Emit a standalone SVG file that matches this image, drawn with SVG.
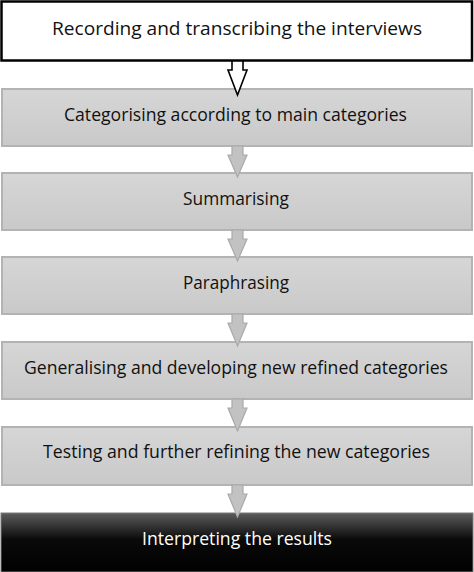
<svg xmlns="http://www.w3.org/2000/svg" width="474" height="572" viewBox="0 0 474 572">
  <defs>
    <linearGradient id="gray" x1="0" y1="0" x2="0" y2="1">
      <stop offset="0" stop-color="#d6d6d6"/>
      <stop offset="1" stop-color="#c9c9c9"/>
    </linearGradient>
    <linearGradient id="dark" x1="0" y1="0" x2="0" y2="1">
      <stop offset="0" stop-color="#5c5c5c"/>
      <stop offset="0.45" stop-color="#0a0a0a"/>
      <stop offset="1" stop-color="#000000"/>
    </linearGradient>
    <style>
      .t { font-family: "Open Sans", "Liberation Sans", sans-serif; font-size: 19px; fill: #111; text-anchor: middle; }
      .s { font-size: 18px; }
      .w { fill: #ffffff; }
      .g { fill: url(#gray); stroke: #b3b3b3; stroke-width: 2; }
      .ga { fill: #c2c2c2; stroke: #a9a9a9; stroke-width: 1.2; stroke-linejoin: miter; }
    </style>
  </defs>
  <rect width="474" height="572" fill="#ffffff"/>
  <g id="node1">
    <rect x="1.5" y="1.5" width="470.5" height="59" fill="#ffffff" stroke="#000" stroke-width="2.5"/>
    <text class="t" x="237" y="35" textLength="370" lengthAdjust="spacingAndGlyphs">Recording and transcribing the interviews</text>
  </g>
  <g id="node2">
    <rect class="g" x="2" y="89" width="470" height="57"/>
    <text class="t" x="235.5" y="121" textLength="343" lengthAdjust="spacingAndGlyphs">Categorising according to main categories</text>
  </g>
  <g id="node3">
    <rect class="g" x="2" y="173" width="470" height="57"/>
    <text class="t" x="236" y="205" textLength="106" lengthAdjust="spacingAndGlyphs">Summarising</text>
  </g>
  <g id="node4">
    <rect class="g" x="2" y="257" width="470" height="57"/>
    <text class="t" x="236" y="289" textLength="106" lengthAdjust="spacingAndGlyphs">Paraphrasing</text>
  </g>
  <g id="node5">
    <rect class="g" x="2" y="342" width="470" height="57"/>
    <text class="t s" x="236" y="374" textLength="424" lengthAdjust="spacingAndGlyphs">Generalising and developing new refined categories</text>
  </g>
  <g id="node6">
    <rect class="g" x="2" y="427" width="470" height="58"/>
    <text class="t" x="236.5" y="458" textLength="387" lengthAdjust="spacingAndGlyphs">Testing and further refining the new categories</text>
  </g>
  <g id="node7">
    <rect x="1" y="513" width="472" height="59" fill="url(#dark)" stroke="#7a7a7a" stroke-width="1"/>
    <text class="t w" x="237" y="545" textLength="190" lengthAdjust="spacingAndGlyphs">Interpreting the results</text>
  </g>
  <g id="connectors">
    <polygon points="232,61 243,61 243,70 247,70 237.5,95 228,70 232,70" fill="#ffffff" stroke="#000" stroke-width="1.6"/>
    <polygon class="ga" points="232,146 243,146 243,155 247,155 237.5,177 228,155 232,155"/>
    <polygon class="ga" points="232,230 243,230 243,239 247,239 237.5,261 228,239 232,239"/>
    <polygon class="ga" points="232,314 243,314 243,323 247,323 237.5,346 228,323 232,323"/>
    <polygon class="ga" points="232,399 243,399 243,408 247,408 237.5,431 228,408 232,408"/>
    <polygon class="ga" points="232,485 243,485 243,494 247,494 237.5,517 228,494 232,494"/>
  </g>
</svg>
